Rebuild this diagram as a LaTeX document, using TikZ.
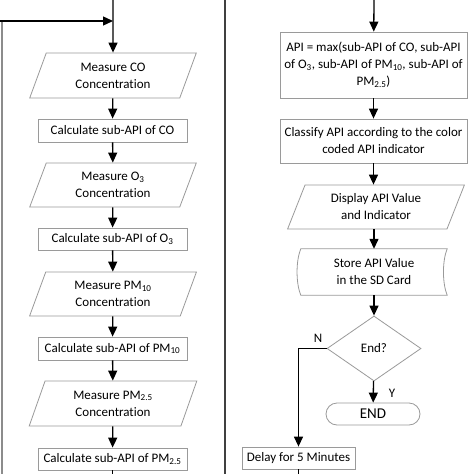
\documentclass[tikz,border=0pt]{standalone}
\usepackage{fontspec}
\setmainfont{Carlito}[Ligatures=NoCommon]
\usetikzlibrary{arrows.meta,shapes.geometric}
\definecolor{boxgray}{HTML}{9A9A9A}
\definecolor{loopgray}{HTML}{8C8C8C}
\definecolor{divgray}{HTML}{404040}
\begin{document}
\begin{tikzpicture}[x=1pt,y=-1pt,
  every node/.style={font=\fontsize{13}{17}\selectfont, inner sep=0pt, align=center},
  procbox/.style={draw=boxgray, line width=0.8pt, rectangle},
  iobox/.style={draw=boxgray, line width=0.8pt, trapezium, trapezium left angle=70,
    trapezium right angle=110, trapezium stretches=true},
  termbox/.style={draw=boxgray, line width=0.8pt, rectangle, rounded corners=11pt},
  decbox/.style={draw=boxgray, line width=0.8pt, diamond},
  flow/.style={line width=1.3pt, -{Triangle[length=10pt,width=9pt]}},
  plain/.style={line width=1.3pt},
  lbl/.style={font=\fontsize{13}{15}\selectfont}]
\useasboundingbox (0,0) rectangle (474,474);
\fill[white] (0,0) rectangle (474,474);

% left column
\node[iobox, minimum width=168pt, minimum height=45pt] (mco) at (113,75.5) {Measure CO\\Concentration};
\node[procbox, minimum width=149pt, minimum height=23pt] (cco) at (112.5,130.5) {Calculate sub-API of CO};
\node[iobox, minimum width=168pt, minimum height=44pt] (mo3) at (113,185) {Measure O\textsubscript{3}\\Concentration};
\node[procbox, minimum width=149pt, minimum height=22pt] (co3) at (112.5,239) {Calculate sub-API of O\textsubscript{3}};
\node[iobox, minimum width=168pt, minimum height=44pt] (mpm10) at (113,294) {Measure PM\textsubscript{10}\\Concentration};
\node[procbox, minimum width=149pt, minimum height=23pt] (cpm10) at (112.5,348.5) {Calculate sub-API of PM\textsubscript{10}};
\node[iobox, minimum width=168pt, minimum height=45pt] (mpm25) at (113,403.5) {Measure PM\textsubscript{2.5}\\Concentration};
\node[procbox, minimum width=149pt, minimum height=22pt] (cpm25) at (112.5,459) {Calculate sub-API of PM\textsubscript{2.5}};

\coordinate (ltop) at (113,0);
\coordinate (lj) at (113,21);
\coordinate (lloop) at (0,21);
\coordinate (lgt) at (2,21);
\coordinate (lgb) at (2,474);
\coordinate (lbot) at (112.5,474);

\draw[loopgray, line width=2.5pt] (lgt) -- (lgb);
\draw[flow] (lloop) -- (lj);
\draw[flow] (ltop) -- (mco);
\draw[flow] (mco) -- (cco);
\draw[flow] (cco) -- (mo3);
\draw[flow] (mo3) -- (co3);
\draw[flow] (co3) -- (mpm10);
\draw[flow] (mpm10) -- (cpm10);
\draw[flow] (cpm10) -- (mpm25);
\draw[flow] (mpm25) -- (cpm25);
\draw[plain] (cpm25) -- (lbot);

% divider
\coordinate (dt) at (225,0);
\coordinate (db) at (225,474);
\draw[divgray, line width=1.2pt] (dt) -- (db);

% right column
\node[procbox, minimum width=187pt, minimum height=66pt] (api) at (373.5,65)
  {API = max(sub-API of CO, sub-API\\of O\textsubscript{3}, sub-API of PM\textsubscript{10}, sub-API of\\PM\textsubscript{2.5})};
\node[procbox, minimum width=187pt, minimum height=44pt] (cls) at (373.5,141)
  {Classify API according to the color\\coded API indicator};
\node[iobox, trapezium left angle=67, trapezium right angle=113, minimum width=177pt, minimum height=44pt] (disp) at (376,207)
  {Display API Value\\and Indicator};
\node[minimum width=146pt, minimum height=46pt] (store) at (374,272) {Store API Value\\in the SD Card};
\draw[boxgray, line width=0.8pt]
  (store.north west) .. controls +(-5,12) and +(-5,-12) .. (store.south west)
  -- (store.south east) .. controls +(-5,-12) and +(-5,12) .. (store.north east) -- cycle;
\node[decbox, minimum width=94pt, minimum height=65pt] (dec) at (374,348.5) {End?};
\node[termbox, minimum width=94pt, minimum height=22pt, font=\fontsize{15}{17}\selectfont] (endn) at (373,414) {END};
\node[procbox, minimum width=113pt, minimum height=22pt] (delay) at (298.5,458) {Delay for 5 Minutes};
\node[lbl] (ylab) at (392,393) {Y};
\node[lbl] (nlab) at (318,338) {N};

\coordinate (rtop) at (374,0);
\coordinate (rbot) at (298.5,474);
\draw[flow] (rtop) -- (api);
\draw[flow] (api) -- (cls);
\draw[flow] (cls) -- (cls.south |- disp.north);
\draw[flow] (store.north |- disp.south) -- (store);
\draw[flow] (store) -- (dec);
\draw[flow] (dec) -- (endn);
\draw[flow] (dec.west) -| (delay.north);
\draw[plain] (delay) -- (rbot);
\end{tikzpicture}
\end{document}
